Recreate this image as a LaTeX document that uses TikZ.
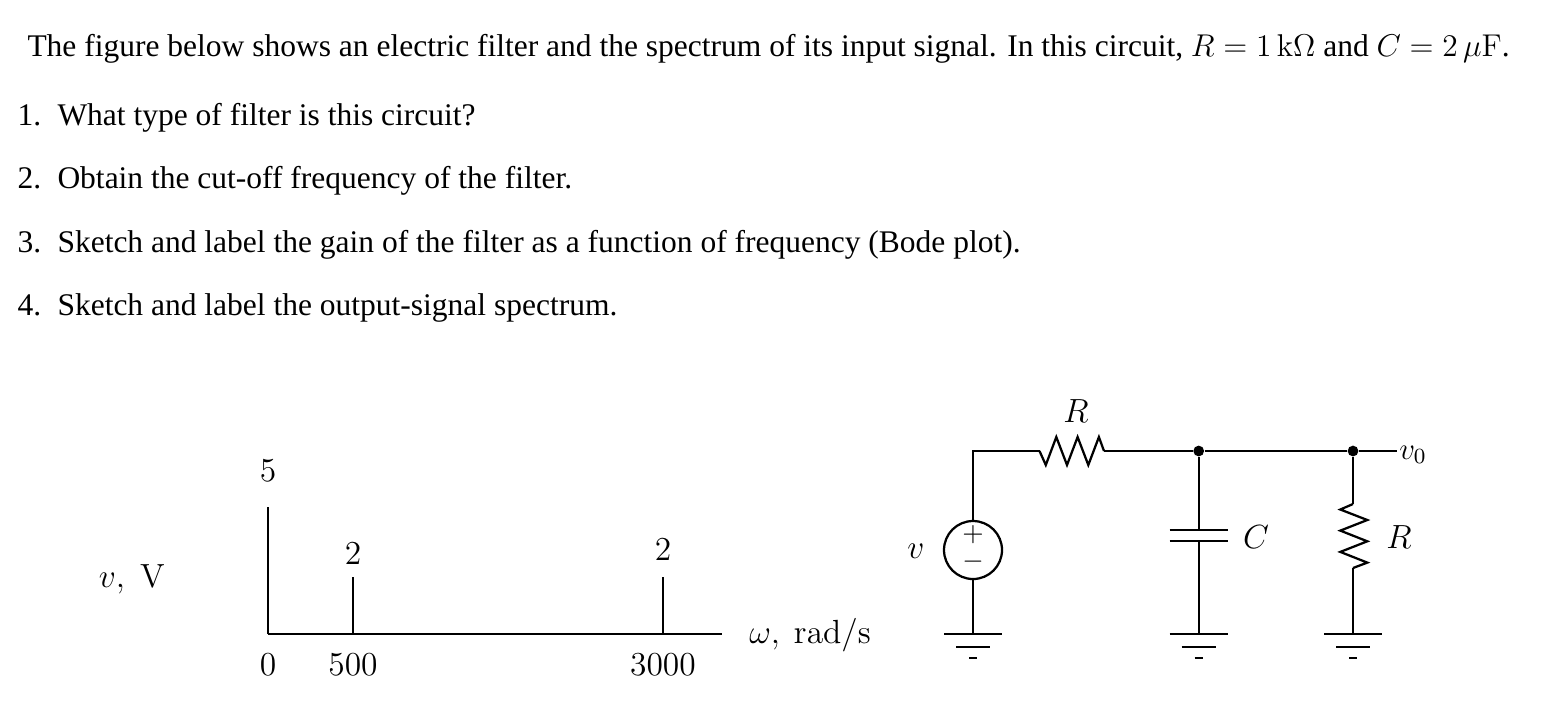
\RequirePackage{fix-cm}
\documentclass[tikz,border=0pt]{standalone}
\usepackage[no-math]{fontspec}
\setmainfont{Liberation Serif}
\newcommand{\lbl}{\fontsize{13.4}{16}\selectfont}
\newcommand{\sgn}{\fontsize{11}{13}\selectfont}
\newcommand{\txt}{\fontsize{12.6}{15}\selectfont}
\tikzset{
  wire/.style={line width=0.9pt,line join=miter},
  lab/.style={anchor=base,inner sep=0pt,font=\lbl},
  sign/.style={anchor=center,inner sep=0pt,font=\sgn},
  body/.style={anchor=base west,inner sep=0pt,font=\txt},
  dot/.style={circle,fill=black,inner sep=0pt,minimum size=4.3pt},
  src/.style={circle,draw,line width=0.9pt,inner sep=0pt,minimum size=23.2pt},
  axisline/.style={line width=1.1pt},
  gnd/.pic={
    \draw[wire] (-29,0) -- (29,0);
    \draw[wire] (-17,13) -- (17,13);
    \draw[wire] (-4,24) -- (4,24);
  }
}
\begin{document}
\begin{tikzpicture}[x=0.4pt,y=-0.4pt]
\useasboundingbox[fill=white] (0,0) rectangle (1546,722);
% text
\node[body] (t0) at (27,56) {The figure below shows an electric filter and the spectrum of its input signal. In this circuit, $R=1\,\mathrm{k}\Omega$ and $C=2\,\mu\mathrm{F}$.};
\node[body] (n1) at (17,125) {1.};
\node[body] (q1) at (57,125) {What type of filter is this circuit?};
\node[body] (n2) at (17,188) {2.};
\node[body] (q2) at (57,188) {Obtain the cut-off frequency of the filter.};
\node[body] (n3) at (17,252) {3.};
\node[body] (q3) at (57,252) {Sketch and label the gain of the filter as a function of frequency (Bode plot).};
\node[body] (n4) at (17,315) {4.};
\node[body] (q4) at (57,315) {Sketch and label the output-signal spectrum.};
% spectrum
\coordinate (o) at (268,634);
\coordinate (axend) at (722,634);
\coordinate (a) at (353,634);
\coordinate (b) at (663,634);
\coordinate (otop) at (268,507);
\coordinate (atop) at (353,577);
\coordinate (btop) at (663,577);
\draw[axisline] (o) -- (axend);
\draw[axisline] (o) -- (otop);
\draw[axisline] (a) -- (atop);
\draw[axisline] (b) -- (btop);
\node[lab] (l5) at (268,481) {$5$};
\node[lab] (l2a) at (353,564) {$2$};
\node[lab] (l2b) at (663,560) {$2$};
\node[lab] (l0) at (268,675) {$0$};
\node[lab] (l500) at (353,675) {$500$};
\node[lab] (l3000) at (663,675) {$3000$};
\node[lab] (lv) at (132,587) {$v,\;\mathrm{V}$};
\node[lab] (lw) at (810,643) {$\omega,\ \mathrm{rad/s}$};
% circuit
\node[src] (vs) at (973,550) {};
\node[sign] (plus) at (973,534.5) {$+$};
\node[sign] (minus) at (973,562) {$-$};
\coordinate (tl) at (973,451);
\coordinate (r1a) at (1039.5,451);
\coordinate (r1b) at (1104,451);
\node[dot] (j1) at (1198.7,451) {};
\node[dot] (j2) at (1353,451) {};
\coordinate (out) at (1397,451);
\coordinate (g1) at (973,634);
\coordinate (g2) at (1198.7,634);
\coordinate (g3) at (1353,634);
\coordinate (c1) at (1198.7,530);
\coordinate (c2) at (1198.7,541);
\coordinate (r2a) at (1353,504);
\coordinate (r2b) at (1353,568);
\draw[wire] (vs) -- (tl) -- (r1a);
\draw[wire] (r1a) -- ++(6.3,14) -- ++(10.5,-28) -- ++(10.7,28) -- ++(10.6,-28) -- ++(10.7,28) -- ++(10.6,-28) -- (r1b);
\draw[wire] (r1b) -- (j1);
\draw[wire] (j1) -- (j2);
\draw[wire] (j2) -- (out);
\draw[wire] (j1) -- (c1);
\draw[wire] (c2) -- (g2);
\draw[wire] ([xshift=-29*0.4pt]c1) -- ([xshift=29*0.4pt]c1);
\draw[wire] ([xshift=-29*0.4pt]c2) -- ([xshift=29*0.4pt]c2);
\draw[wire] (j2) -- (r2a);
\draw[wire] (r2a) -- ++(-12.7,5.5) -- ++(27,10.5) -- ++(-27,10.6) -- ++(27,10.7) -- ++(-27,10.6) -- ++(27,10.7) -- ++(-14.3,5.4);
\draw[wire] (r2b) -- (g3);
\draw[wire] (vs) -- (g1);
\pic at (g1) {gnd};
\pic at (g2) {gnd};
\pic at (g3) {gnd};
\node[lab] (lr1) at (1076,422) {$R$};
\node[lab] (lvs) at (916,558) {$v$};
\node[lab] (lc) at (1256,548) {$C$};
\node[lab] (lr2) at (1399,548) {$R$};
\node[lab,font=\fontsize{12.4}{15}\selectfont] (lv0) at (1413,459) {$v_0$};
\end{tikzpicture}
\end{document}
